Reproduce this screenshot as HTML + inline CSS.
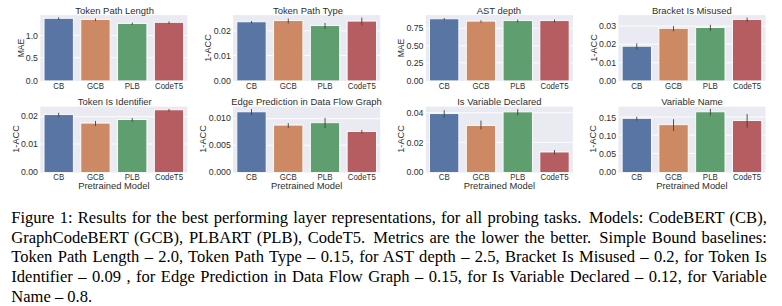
<!DOCTYPE html>
<html><head><meta charset="utf-8">
<style>
html,body{margin:0;padding:0;background:#fff;}
body{width:782px;height:306px;position:relative;overflow:hidden;}
svg{position:absolute;left:0;top:0;}
.xt,.yt,.tt,.yl,.xl{position:absolute;font-family:"Liberation Sans",sans-serif;color:#2e2e2e;white-space:nowrap;line-height:1;}
.xt{font-size:7.9px;transform:translateX(-50%) scaleY(1.1);transform-origin:50% 0;}
.yt{font-size:8.8px;}
.tt{font-size:9.45px;transform:translateX(-50%);}
.xl{font-size:9.4px;transform:translateX(-50%);}
.yl{font-size:9.2px;transform:translate(-50%,-50%) rotate(-90deg);}
.cl{position:absolute;left:11.3px;width:755.5px;font-family:"Liberation Serif",serif;font-size:16.55px;line-height:1;color:#000;text-align:justify;text-align-last:justify;white-space:nowrap;}
.cl.last{text-align:left;text-align-last:left;}
</style></head><body>
<svg width="782" height="306" viewBox="0 0 782 306">
<rect x="40.3" y="15.1" width="147.1" height="65.80" fill="#eaeaf2"/>
<rect x="40.3" y="57.25" width="147.1" height="0.9" fill="#fff"/>
<rect x="40.3" y="34.95" width="147.1" height="0.9" fill="#fff"/>
<rect x="44.04" y="18.30" width="29.3" height="62.60" fill="#5875a4" stroke="#fff" stroke-width="0.9"/>
<rect x="58.24" y="17.4" width="0.9" height="2.60" fill="#424242"/>
<rect x="80.81" y="19.40" width="29.3" height="61.50" fill="#cc8963" stroke="#fff" stroke-width="0.9"/>
<rect x="95.01" y="18.5" width="0.9" height="2.60" fill="#424242"/>
<rect x="117.59" y="23.40" width="29.3" height="57.50" fill="#5f9e6e" stroke="#fff" stroke-width="0.9"/>
<rect x="131.79" y="22.6" width="0.9" height="2.40" fill="#424242"/>
<rect x="154.36" y="22.30" width="29.3" height="58.60" fill="#b55d60" stroke="#fff" stroke-width="0.9"/>
<rect x="168.56" y="21.4" width="0.9" height="2.60" fill="#424242"/>
<rect x="233.1" y="15.1" width="147.1" height="65.80" fill="#eaeaf2"/>
<rect x="233.1" y="54.95" width="147.1" height="0.9" fill="#fff"/>
<rect x="233.1" y="30.45" width="147.1" height="0.9" fill="#fff"/>
<rect x="236.84" y="21.80" width="29.3" height="59.10" fill="#5875a4" stroke="#fff" stroke-width="0.9"/>
<rect x="251.04" y="21.0" width="0.9" height="2.40" fill="#424242"/>
<rect x="273.61" y="20.60" width="29.3" height="60.30" fill="#cc8963" stroke="#fff" stroke-width="0.9"/>
<rect x="287.81" y="18.6" width="0.9" height="4.80" fill="#424242"/>
<rect x="310.39" y="25.60" width="29.3" height="55.30" fill="#5f9e6e" stroke="#fff" stroke-width="0.9"/>
<rect x="324.59" y="23.0" width="0.9" height="6.00" fill="#424242"/>
<rect x="347.16" y="21.10" width="29.3" height="59.80" fill="#b55d60" stroke="#fff" stroke-width="0.9"/>
<rect x="361.36" y="17.6" width="0.9" height="7.80" fill="#424242"/>
<rect x="425.8" y="15.1" width="147.1" height="65.80" fill="#eaeaf2"/>
<rect x="425.8" y="62.35" width="147.1" height="0.9" fill="#fff"/>
<rect x="425.8" y="45.35" width="147.1" height="0.9" fill="#fff"/>
<rect x="425.8" y="27.85" width="147.1" height="0.9" fill="#fff"/>
<rect x="429.54" y="18.80" width="29.3" height="62.10" fill="#5875a4" stroke="#fff" stroke-width="0.9"/>
<rect x="443.74" y="18.0" width="0.9" height="2.40" fill="#424242"/>
<rect x="466.31" y="21.10" width="29.3" height="59.80" fill="#cc8963" stroke="#fff" stroke-width="0.9"/>
<rect x="480.51" y="20.3" width="0.9" height="2.40" fill="#424242"/>
<rect x="503.09" y="20.60" width="29.3" height="60.30" fill="#5f9e6e" stroke="#fff" stroke-width="0.9"/>
<rect x="517.29" y="19.5" width="0.9" height="3.00" fill="#424242"/>
<rect x="539.86" y="20.60" width="29.3" height="60.30" fill="#b55d60" stroke="#fff" stroke-width="0.9"/>
<rect x="554.06" y="19.5" width="0.9" height="3.00" fill="#424242"/>
<rect x="618.4" y="15.1" width="147.1" height="65.80" fill="#eaeaf2"/>
<rect x="618.4" y="62.25" width="147.1" height="0.9" fill="#fff"/>
<rect x="618.4" y="43.75" width="147.1" height="0.9" fill="#fff"/>
<rect x="618.4" y="25.65" width="147.1" height="0.9" fill="#fff"/>
<rect x="622.14" y="46.20" width="29.3" height="34.70" fill="#5875a4" stroke="#fff" stroke-width="0.9"/>
<rect x="636.34" y="43.4" width="0.9" height="6.40" fill="#424242"/>
<rect x="658.91" y="28.30" width="29.3" height="52.60" fill="#cc8963" stroke="#fff" stroke-width="0.9"/>
<rect x="673.11" y="26.1" width="0.9" height="5.20" fill="#424242"/>
<rect x="695.69" y="27.50" width="29.3" height="53.40" fill="#5f9e6e" stroke="#fff" stroke-width="0.9"/>
<rect x="709.89" y="24.8" width="0.9" height="6.20" fill="#424242"/>
<rect x="732.46" y="19.40" width="29.3" height="61.50" fill="#b55d60" stroke="#fff" stroke-width="0.9"/>
<rect x="746.66" y="17.6" width="0.9" height="4.40" fill="#424242"/>
<rect x="40.3" y="106.6" width="147.1" height="66.00" fill="#eaeaf2"/>
<rect x="40.3" y="143.55" width="147.1" height="0.9" fill="#fff"/>
<rect x="40.3" y="116.25" width="147.1" height="0.9" fill="#fff"/>
<rect x="44.04" y="114.60" width="29.3" height="58.00" fill="#5875a4" stroke="#fff" stroke-width="0.9"/>
<rect x="58.24" y="112.8" width="0.9" height="4.40" fill="#424242"/>
<rect x="80.81" y="123.10" width="29.3" height="49.50" fill="#cc8963" stroke="#fff" stroke-width="0.9"/>
<rect x="95.01" y="120.9" width="0.9" height="5.20" fill="#424242"/>
<rect x="117.59" y="119.50" width="29.3" height="53.10" fill="#5f9e6e" stroke="#fff" stroke-width="0.9"/>
<rect x="131.79" y="118.0" width="0.9" height="3.80" fill="#424242"/>
<rect x="154.36" y="109.80" width="29.3" height="62.80" fill="#b55d60" stroke="#fff" stroke-width="0.9"/>
<rect x="168.56" y="109.0" width="0.9" height="2.40" fill="#424242"/>
<rect x="233.1" y="106.6" width="147.1" height="66.00" fill="#eaeaf2"/>
<rect x="233.1" y="144.75" width="147.1" height="0.9" fill="#fff"/>
<rect x="233.1" y="118.25" width="147.1" height="0.9" fill="#fff"/>
<rect x="236.84" y="111.80" width="29.3" height="60.80" fill="#5875a4" stroke="#fff" stroke-width="0.9"/>
<rect x="251.04" y="109.2" width="0.9" height="6.00" fill="#424242"/>
<rect x="273.61" y="125.10" width="29.3" height="47.50" fill="#cc8963" stroke="#fff" stroke-width="0.9"/>
<rect x="287.81" y="123.1" width="0.9" height="4.80" fill="#424242"/>
<rect x="310.39" y="122.70" width="29.3" height="49.90" fill="#5f9e6e" stroke="#fff" stroke-width="0.9"/>
<rect x="324.59" y="118.0" width="0.9" height="10.20" fill="#424242"/>
<rect x="347.16" y="131.40" width="29.3" height="41.20" fill="#b55d60" stroke="#fff" stroke-width="0.9"/>
<rect x="361.36" y="130.0" width="0.9" height="3.60" fill="#424242"/>
<rect x="425.8" y="106.6" width="147.1" height="66.00" fill="#eaeaf2"/>
<rect x="425.8" y="141.85" width="147.1" height="0.9" fill="#fff"/>
<rect x="425.8" y="112.35" width="147.1" height="0.9" fill="#fff"/>
<rect x="429.54" y="113.60" width="29.3" height="59.00" fill="#5875a4" stroke="#fff" stroke-width="0.9"/>
<rect x="443.74" y="110.2" width="0.9" height="7.60" fill="#424242"/>
<rect x="466.31" y="125.40" width="29.3" height="47.20" fill="#cc8963" stroke="#fff" stroke-width="0.9"/>
<rect x="480.51" y="120.6" width="0.9" height="8.80" fill="#424242"/>
<rect x="503.09" y="111.90" width="29.3" height="60.70" fill="#5f9e6e" stroke="#fff" stroke-width="0.9"/>
<rect x="517.29" y="109.2" width="0.9" height="6.20" fill="#424242"/>
<rect x="539.86" y="152.00" width="29.3" height="20.60" fill="#b55d60" stroke="#fff" stroke-width="0.9"/>
<rect x="554.06" y="150.0" width="0.9" height="4.80" fill="#424242"/>
<rect x="618.4" y="106.6" width="147.1" height="66.00" fill="#eaeaf2"/>
<rect x="618.4" y="152.95" width="147.1" height="0.9" fill="#fff"/>
<rect x="618.4" y="134.65" width="147.1" height="0.9" fill="#fff"/>
<rect x="618.4" y="116.55" width="147.1" height="0.9" fill="#fff"/>
<rect x="622.14" y="118.30" width="29.3" height="54.30" fill="#5875a4" stroke="#fff" stroke-width="0.9"/>
<rect x="636.34" y="116.7" width="0.9" height="4.00" fill="#424242"/>
<rect x="658.91" y="124.70" width="29.3" height="47.90" fill="#cc8963" stroke="#fff" stroke-width="0.9"/>
<rect x="673.11" y="119.2" width="0.9" height="11.80" fill="#424242"/>
<rect x="695.69" y="111.80" width="29.3" height="60.80" fill="#5f9e6e" stroke="#fff" stroke-width="0.9"/>
<rect x="709.89" y="108.9" width="0.9" height="6.60" fill="#424242"/>
<rect x="732.46" y="120.50" width="29.3" height="52.10" fill="#b55d60" stroke="#fff" stroke-width="0.9"/>
<rect x="746.66" y="114.1" width="0.9" height="13.60" fill="#424242"/>
</svg>
<div class="xt" style="left:58.69px;top:81.60px">CB</div>
<div class="xt" style="left:95.46px;top:81.60px">GCB</div>
<div class="xt" style="left:132.24px;top:81.60px">PLB</div>
<div class="xt" style="left:169.01px;top:81.60px">CodeT5</div>
<div class="yt" style="right:744.00px;top:76.90px">0.0</div>
<div class="yt" style="right:744.00px;top:53.90px">0.5</div>
<div class="yt" style="right:744.00px;top:31.60px">1.0</div>
<div class="tt" style="left:114.65px;top:6.15px">Token Path Length</div>
<div class="yl" style="font-size:8.5px;left:21.00px;top:47.60px">MAE</div>
<div class="xt" style="left:251.49px;top:81.60px">CB</div>
<div class="xt" style="left:288.26px;top:81.60px">GCB</div>
<div class="xt" style="left:325.04px;top:81.60px">PLB</div>
<div class="xt" style="left:361.81px;top:81.60px">CodeT5</div>
<div class="yt" style="right:551.20px;top:76.90px">0.00</div>
<div class="yt" style="right:551.20px;top:51.60px">0.01</div>
<div class="yt" style="right:551.20px;top:27.10px">0.02</div>
<div class="tt" style="left:308.00px;top:6.15px">Token Path Type</div>
<div class="yl" style="font-size:9.2px;left:208.70px;top:47.60px">1-ACC</div>
<div class="xt" style="left:444.19px;top:81.60px">CB</div>
<div class="xt" style="left:480.96px;top:81.60px">GCB</div>
<div class="xt" style="left:517.74px;top:81.60px">PLB</div>
<div class="xt" style="left:554.51px;top:81.60px">CodeT5</div>
<div class="yt" style="right:358.50px;top:76.90px">0.00</div>
<div class="yt" style="right:358.50px;top:59.00px">0.25</div>
<div class="yt" style="right:358.50px;top:42.00px">0.50</div>
<div class="yt" style="right:358.50px;top:24.00px">0.75</div>
<div class="tt" style="left:498.90px;top:6.15px">AST depth</div>
<div class="yl" style="font-size:8.5px;left:400.70px;top:47.60px">MAE</div>
<div class="xt" style="left:636.79px;top:81.60px">CB</div>
<div class="xt" style="left:673.56px;top:81.60px">GCB</div>
<div class="xt" style="left:710.34px;top:81.60px">PLB</div>
<div class="xt" style="left:747.11px;top:81.60px">CodeT5</div>
<div class="yt" style="right:165.90px;top:76.90px">0.00</div>
<div class="yt" style="right:165.90px;top:58.90px">0.01</div>
<div class="yt" style="right:165.90px;top:40.40px">0.02</div>
<div class="yt" style="right:165.90px;top:22.30px">0.03</div>
<div class="tt" style="left:691.80px;top:6.15px">Bracket Is Misused</div>
<div class="yl" style="font-size:9.2px;left:594.70px;top:47.60px">1-ACC</div>
<div class="xt" style="left:58.69px;top:173.30px">CB</div>
<div class="xt" style="left:95.46px;top:173.30px">GCB</div>
<div class="xt" style="left:132.24px;top:173.30px">PLB</div>
<div class="xt" style="left:169.01px;top:173.30px">CodeT5</div>
<div class="yt" style="right:744.00px;top:167.50px">0.00</div>
<div class="yt" style="right:744.00px;top:140.20px">0.01</div>
<div class="yt" style="right:744.00px;top:112.00px">0.02</div>
<div class="tt" style="left:114.75px;top:96.85px">Token Is Identifier</div>
<div class="yl" style="font-size:9.2px;left:16.60px;top:139.20px">1-ACC</div>
<div class="xl" style="left:113.85px;top:181.10px">Pretrained Model</div>
<div class="xt" style="left:251.49px;top:173.30px">CB</div>
<div class="xt" style="left:288.26px;top:173.30px">GCB</div>
<div class="xt" style="left:325.04px;top:173.30px">PLB</div>
<div class="xt" style="left:361.81px;top:173.30px">CodeT5</div>
<div class="yt" style="right:551.20px;top:167.50px">0.000</div>
<div class="yt" style="right:551.20px;top:141.40px">0.005</div>
<div class="yt" style="right:551.20px;top:113.90px">0.010</div>
<div class="tt" style="left:306.55px;top:96.85px">Edge Prediction in Data Flow Graph</div>
<div class="yl" style="font-size:9.2px;left:203.70px;top:139.20px">1-ACC</div>
<div class="xl" style="left:306.65px;top:181.10px">Pretrained Model</div>
<div class="xt" style="left:444.19px;top:173.30px">CB</div>
<div class="xt" style="left:480.96px;top:173.30px">GCB</div>
<div class="xt" style="left:517.74px;top:173.30px">PLB</div>
<div class="xt" style="left:554.51px;top:173.30px">CodeT5</div>
<div class="yt" style="right:358.50px;top:167.50px">0.00</div>
<div class="yt" style="right:358.50px;top:138.50px">0.02</div>
<div class="yt" style="right:358.50px;top:109.00px">0.04</div>
<div class="tt" style="left:499.40px;top:96.85px">Is Variable Declared</div>
<div class="yl" style="font-size:9.2px;left:401.70px;top:139.20px">1-ACC</div>
<div class="xl" style="left:499.35px;top:181.10px">Pretrained Model</div>
<div class="xt" style="left:636.79px;top:173.30px">CB</div>
<div class="xt" style="left:673.56px;top:173.30px">GCB</div>
<div class="xt" style="left:710.34px;top:173.30px">PLB</div>
<div class="xt" style="left:747.11px;top:173.30px">CodeT5</div>
<div class="yt" style="right:165.90px;top:167.50px">0.00</div>
<div class="yt" style="right:165.90px;top:149.60px">0.05</div>
<div class="yt" style="right:165.90px;top:132.10px">0.10</div>
<div class="yt" style="right:165.90px;top:114.20px">0.15</div>
<div class="tt" style="left:692.00px;top:96.85px">Variable Name</div>
<div class="yl" style="font-size:9.2px;left:594.30px;top:139.20px">1-ACC</div>
<div class="xl" style="left:691.95px;top:181.10px">Pretrained Model</div>
<div class="cl" style="top:209.60px">Figure 1: Results for the best performing layer representations, for all probing tasks. <span style="display:inline-block;width:2.5px"></span>Models: CodeBERT (CB),</div>
<div class="cl" style="top:229.50px">GraphCodeBERT (GCB), PLBART (PLB), CodeT5. <span style="display:inline-block;width:2.5px"></span>Metrics are the lower the better. <span style="display:inline-block;width:2.5px"></span>Simple Bound baselines:</div>
<div class="cl" style="top:249.40px">Token Path Length &ndash; 2.0, Token Path Type &ndash; 0.15, for AST depth &ndash; 2.5, Bracket Is Misused &ndash; 0.2, for Token Is</div>
<div class="cl" style="top:269.30px">Identifier &ndash; 0.09 , for Edge Prediction in Data Flow Graph &ndash; 0.15, for Is Variable Declared &ndash; 0.12, for Variable</div>
<div class="cl last" style="top:289.20px">Name &ndash; 0.8.</div>
</body></html>
